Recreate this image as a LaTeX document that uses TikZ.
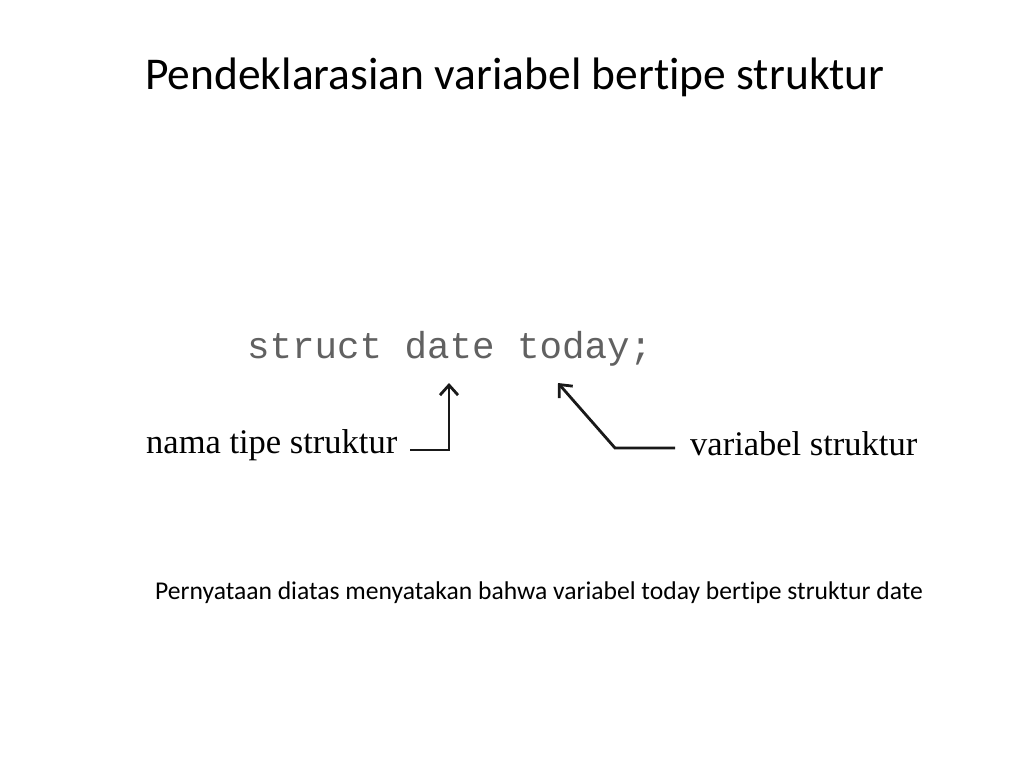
\documentclass[tikz,border=0pt]{standalone}
\usepackage{fontspec}
\setmainfont{Carlito}[Ligatures=CommonOff]
\newfontfamily\codefont{Liberation Mono}
\newfontfamily\labelfont{Liberation Serif}
\usetikzlibrary{arrows.meta}
\begin{document}
\begin{tikzpicture}[x=1pt,y=-1pt,
  titletext/.style={anchor=base west,inner sep=0pt,font=\fontsize{45.5}{50}\selectfont},
  bodytext/.style={anchor=base west,inner sep=0pt,font=\fontsize{25.6}{30}\selectfont},
  codetext/.style={anchor=base west,inner sep=0pt,text=black!62,font=\codefont\fontsize{37.5}{40}\selectfont},
  labeltext/.style={anchor=base west,inner sep=0pt,text=black,font=\labelfont\fontsize{34.5}{38}\selectfont},
  pointer/.style={line width=2.8pt,black!90,-{Straight Barb[length=10pt,width=18pt,line width=2.8pt]}}]
\useasboundingbox[fill=white] (0,0) rectangle (1024,768);
\node[titletext] (title) at (145,89) {Pendeklarasian variabel bertipe struktur};
\node[codetext] (code) at (247,358) {struct date today;};
\node[labeltext] (lname) at (146,453) {nama tipe struktur};
\node[labeltext] (lvar) at (690,455) {variabel struktur};
\node[bodytext] (body) at (155,599) {Pernyataan diatas menyatakan bahwa variabel today bertipe struktur date};
\coordinate (c1) at (449,450);
\coordinate (t1) at (449,383);
\coordinate (s1) at (410,450);
\coordinate (s2) at (675,448);
\coordinate (c2) at (615,448);
\coordinate (t2) at (558,383);
\draw[pointer] (s1) -- (c1) -- (t1);
\draw[pointer] (s2) -- (c2) -- (t2);
\end{tikzpicture}
\end{document}
